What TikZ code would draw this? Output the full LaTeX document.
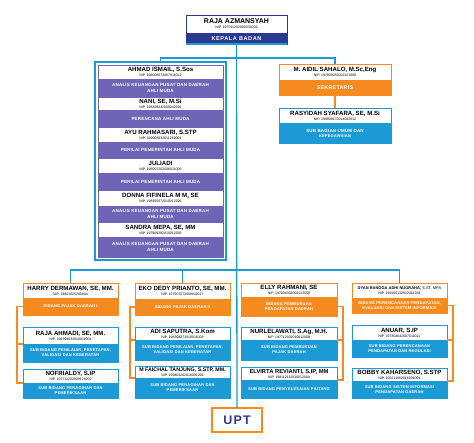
\documentclass[tikz,border=0pt]{standalone}
\usepackage{fontspec}
\setmainfont{Liberation Sans}
\newfontfamily\rolefont[LetterSpace=4]{Liberation Sans}
\newfontfamily\widefont[LetterSpace=10]{Liberation Sans}
\definecolor{navyC}{HTML}{2B3990}
\definecolor{blueC}{HTML}{1C9AD6}
\definecolor{orangeC}{HTML}{F58A1F}
\definecolor{purpC}{HTML}{7064B6}
\newcommand\pnm{\fontsize{6.1}{6}\selectfont\bfseries}
\newcommand\pnip{\fontsize{3.5}{3.5}\selectfont}
\newcommand\unitbox[9]{%
  \node[wb=#2, minimum width=#4, minimum height=#6-#5] (#1) at (#3,{(#5+#6)/2}) {#8};
  \node[barbox=#2, minimum width=#4, minimum height=#7-#6] (#1b) at (#3,{(#6+#7)/2}) {#9};}
\begin{document}
\begin{tikzpicture}[x=1pt,y=-1pt,
  wb/.style={draw=#1, fill=white, line width=0.5pt, inner sep=0pt, outer sep=0pt, align=center, font=\fontsize{3.5}{5}\selectfont},
  barbox/.style={draw=#1, fill=#1, line width=0.5pt, inner sep=0pt, outer sep=0pt, align=center, text=white, font=\rolefont\bfseries\fontsize{4.05}{5}\selectfont},
  lbar/.style={font=\rolefont\bfseries\fontsize{4.5}{5.4}\selectfont},
  bline/.style={draw=blueC, line width=1.3pt},
  oline/.style={draw=orangeC, line width=1.3pt}]
\fill[white] (0,0) rectangle (474,443);
\useasboundingbox (0,0) rectangle (474,443);
% top
\node[wb=navyC, line width=0.8pt, minimum width=101, minimum height=18] (kt) at (236.5,24)
  {{\fontsize{7}{7}\selectfont\bfseries RAJA AZMANSYAH}\\{\pnip NIP. 197011202000031009}};
\node[barbox=navyC, minimum width=101, minimum height=11, font=\widefont\bfseries\fontsize{5.6}{5.6}\selectfont] (kb) at (236.5,38.5) {KEPALA BADAN};
\coordinate (j1) at (236.5,58);
\coordinate (j2) at (236.5,270);
% UPT
\node[draw=orangeC, line width=1.4pt, fill=white, minimum width=50, minimum height=24, inner sep=0pt, outer sep=0pt, text=navyC, font=\widefont\bfseries\fontsize{12.5}{12.5}\selectfont] (upt) at (237,420) {UPT};
\draw[bline] (kb.south) -- (upt.north);
\draw[blueC, line width=2.4pt] (kb.south west) -- (kb.south east);
% left column
\node[draw=blueC, line width=1.6pt, minimum width=131, minimum height=198, inner sep=0pt, outer sep=0pt] (lcol) at (160.5,161) {};
\begin{scope}
\tikzset{barbox/.append style={lbar}}
\unitbox{a1}{purpC}{160.5}{125}{65}{79}{97}{{\pnm AHMAD ISMAIL, S.Sos}\\{\pnip NIP. 198006072007011012}}{ANALIS KEUANGAN PUSAT DAN DAERAH\\AHLI MUDA}
\unitbox{a2}{purpC}{160.5}{125}{97}{110}{127}{{\pnm NANI, SE, M.Si}\\{\pnip NIP. 198208242009042001}}{PERENCANA AHLI MUDA}
\unitbox{a3}{purpC}{160.5}{125}{127}{142}{158}{{\pnm AYU RAHMASARI, S.STP}\\{\pnip NIP. 199003032011262001}}{PENILAI PEMERINTAH AHLI MUDA}
\unitbox{a4}{purpC}{160.5}{125}{158}{173}{190}{{\pnm JULIADI}\\{\pnip NIP. 196007262006011006}}{PENILAI PEMERINTAH AHLI MUDA}
\unitbox{a5}{purpC}{160.5}{125}{190}{206}{222}{{\pnm DONNA FIFINELA M M, SE}\\{\pnip NIP. 198305072010012026}}{ANALIS KEUANGAN PUSAT DAN DAERAH\\AHLI MUDA}
\unitbox{a6}{purpC}{160.5}{125}{222}{237}{257}{{\pnm SANDRA MEPA, SE, MM}\\{\pnip NIP. 197909282010012003}}{ANALIS KEUANGAN PUSAT DAN DAERAH\\AHLI MUDA}
\end{scope}
% right: sekretaris
\unitbox{sek}{orangeC}{335}{112}{64}{80}{95}{{\pnm M. AIDIL SAHALO, M.Sc,Eng}\\{\pnip NIP. 197909252002121009}}{\fontsize{5.4}{5.4}\selectfont SEKRETARIS}
\unitbox{ras}{blueC}{335}{112}{108}{123}{143}{{\pnm RASYIDAH SYAFARA, SE, M.Si}\\{\pnip NIP. 198909172014032012}}{\fontsize{4.5}{5.6}\selectfont SUB BAGIAN UMUM DAN\\KEPEGAWAIAN}
\draw[bline] (lcol.north) |- (j1) -| (sek.north);
\draw[oline] (sekb.south) -- (ras.north);
% column 1
\unitbox{har}{orangeC}{70.5}{95}{283}{298}{315}{{\pnm HARRY DERMAWAN, SE, MM.}\\{\pnip NIP. 19801025200904}}{BIDANG PAJAK DAERAH I}
\unitbox{raj}{blueC}{70.5}{95}{327}{344}{362}{{\pnm RAJA AHMADI, SE, MM.}\\{\pnip NIP. 198304032010011004}}{SUB BIDANG PENILAIAN, PENETAPAN,\\VALIDASI DAN KEBERATAN}
\unitbox{nof}{blueC}{70.5}{95}{369}{383}{398}{{\pnm NOFRIALDY, S.IP}\\{\pnip NIP. 197711202009121002}}{SUB BIDANG PENAGIHAN DAN\\PEMERIKSAAN}
% column 2
\unitbox{eko}{orangeC}{182.5}{95}{283}{299}{315}{{\pnm EKO DEDY PRIANTO, SE, MM.}\\{\pnip NIP. 197607072008011017}}{BIDANG PAJAK DAERAH II}
\unitbox{adi}{blueC}{182.5}{95}{327}{340}{360}{{\pnm ADI SAPUTRA, S.Kom}\\{\pnip NIP. 198304272010011008}}{SUB BIDANG PENILAIAN, PENETAPAN,\\VALIDASI DAN KEBERATAN}
\unitbox{fai}{blueC}{182.5}{95}{366}{378}{398}{{\fontsize{5.3}{5}\selectfont\bfseries M FAICHAL TANJUNG, S.STP, MM.}\\{\pnip NIP. 199404202016091001}}{SUB BIDANG PENAGIHAN DAN\\PEMERIKSAAN}
% column 3
\unitbox{ell}{orangeC}{289}{96}{283}{297}{316}{{\pnm ELLY RAHMANI, SE}\\{\pnip NIP. 197006302002122008}}{BIDANG PEMBUKUAN\\PENDAPATAN DAERAH}
\unitbox{nur}{blueC}{289}{96}{327}{340}{360}{{\pnm NURLELAWATI, S.Ag, M.H.}\\{\pnip NIP. 197712032010012008}}{SUB BIDANG PEMBUKUAN\\PAJAK DAERAH}
\unitbox{elv}{blueC}{289}{96}{367}{380}{398}{{\fontsize{5.8}{5.8}\selectfont\bfseries ELVIRTA REVIANTI, S.IP, MM}\\{\pnip NIP. 198112112010012004}}{SUB BIDANG PENYELESAIAN PIUTANG}
% column 4
\unitbox{dya}{orangeC}{399.5}{95}{283}{298}{313}{{\fontsize{4}{4.5}\selectfont\bfseries DYAN RANGGA ADHI NUGRAHA, \mdseries S.ST, MPA}\\{\pnip NIP. 199105122012061001}}{BIDANG PERENCANAAN PENDAPATAN,\\EVALUASI DAN SISTEM INFORMASI}
\unitbox{anu}{blueC}{399.5}{95}{325}{340}{357}{{\pnm ANUAR, S.IP}\\{\pnip NIP. 197804042007011021}}{SUB BIDANG PERENCANAAN\\PENDAPATAN DAN REGULASI}
\unitbox{bob}{blueC}{399.5}{95}{368}{381}{398}{{\pnm BOBBY KAHARSENO, S.STP}\\{\pnip NIP. 199211062016091001}}{SUB BIDANG SISTEM INFORMASI\\PENDAPATAN DAERAH}
% bottom connectors
\draw[bline] (har.north) |- (j2) -| (dya.north);
\draw[bline] (eko.north) -- (eko.north |- j2);
\draw[oline] (harb.west) -- ++(-6,0) coordinate (c1) |- (nof.south west);
\draw[oline] (c1 |- raj.south west) -- (raj.south west);
\draw[oline] (ekob.west) -- ++(-5,0) coordinate (c2) |- (fai.south west);
\draw[oline] (c2 |- adi.south west) -- (adi.south west);
\draw[oline] (ellb.east) -- ++(6,0) coordinate (c3) |- (elv.south east);
\draw[oline] (c3 |- nur.south east) -- (nur.south east);
\draw[oline] (dyab.east) -- ++(6,0) coordinate (c4) |- (bob.south east);
\draw[oline] (c4 |- anu.south east) -- (anu.south east);
\end{tikzpicture}
\end{document}
